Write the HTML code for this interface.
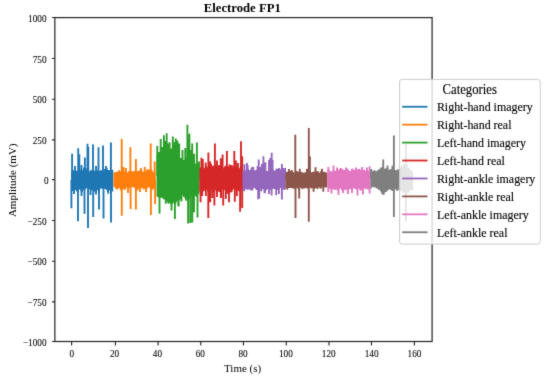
<!DOCTYPE html>
<html><head><meta charset="utf-8"><style>
html,body{margin:0;padding:0;background:#fff;}
svg{display:block;}

text{font-family:"Liberation Serif","Times New Roman",serif;fill:#000;}
</style></head><body>
<svg width="550" height="378" viewBox="0 0 550 378">
<defs><filter id="bl" x="0" y="0" width="1" height="1" color-interpolation-filters="sRGB"><feConvolveMatrix order="3" kernelMatrix="0.0113 0.0838 0.0113 0.0838 0.6193 0.0838 0.0113 0.0838 0.0113" divisor="1" edgeMode="duplicate"/></filter><clipPath id="ax"><rect x="54.85" y="17.6" width="377.25" height="323.90"/></clipPath></defs>
<g filter="url(#bl)">
<rect width="550" height="378" fill="#fff"/>
<g clip-path="url(#ax)">
<path d="M71.8 171.8V189.9M72.5 171.2V190.9M73.2 170.3V189.7M74.0 170.8V190.1M74.7 170.8V190.1M75.4 171.1V189.9M76.1 171.1V190.1M76.8 170.8V191.6M77.5 171.0V191.6M78.2 171.5V190.8M78.9 171.5V189.5M79.6 171.6V189.4M80.3 171.0V189.2M81.0 169.7V191.0M81.7 170.6V192.6M82.4 171.2V191.5M83.1 169.9V189.6M83.8 167.6V188.7M84.5 169.6V189.7M85.2 169.8V189.2M85.9 168.0V188.3M86.6 170.0V188.2M87.3 169.2V188.2M88.0 170.5V188.5M88.7 171.8V189.6M89.4 171.6V189.1M90.1 171.2V188.0M90.8 170.1V189.2M91.5 171.0V190.5M92.2 170.4V189.2M92.9 170.3V189.3M93.6 170.4V190.2M94.3 170.8V191.1M95.0 172.1V191.7M95.7 172.3V190.4M96.4 171.7V189.6M97.1 170.3V189.0M97.8 170.6V189.9M98.5 171.2V191.4M99.2 171.1V192.1M99.9 171.1V189.3M100.6 170.3V188.1M101.3 170.2V188.1M102.0 170.2V188.6M102.7 170.6V188.8M103.4 170.6V189.0M104.1 170.4V188.7M104.8 169.0V187.9M105.5 169.8V188.9M106.2 169.3V189.3M106.9 168.3V190.1M107.6 169.9V191.8M108.3 171.3V190.7M109.0 170.0V189.6M109.7 170.6V190.2M110.4 171.6V189.4M111.1 171.2V189.2M111.8 170.2V190.7M112.5 169.7V191.5" stroke="#1f77b4" stroke-width="1.5" fill="none"/>
<path d="M72.1 153.7V180.0M78.2 148.3V180.0M79.3 154.3V180.0M84.9 157.6V180.0M87.5 143.8V180.0M88.3 147.0V180.0M93.0 144.4V180.0M98.5 147.3V180.0M103.0 145.6V180.0M110.9 142.4V180.0M75.0 166.0V180.0M81.5 165.0V180.0M96.0 166.0V180.0M106.0 166.0V180.0M71.4 180.0V208.2M78.0 180.0V221.3M84.5 180.0V213.7M88.0 180.0V228.1M93.2 180.0V217.1M99.0 180.0V209.6M103.5 180.0V218.5M108.3 180.0V193.8M111.0 180.0V222.6M74.0 180.0V194.0M81.5 180.0V196.0M90.5 180.0V195.0M96.0 180.0V194.5" stroke="#1f77b4" stroke-width="1.9" fill="none"/>
<path d="M114.2 172.2V186.4M114.9 172.5V187.2M115.6 172.4V187.7M116.3 171.8V189.6M117.0 172.3V189.4M117.7 172.1V188.4M118.4 171.3V188.3M119.1 169.9V188.1M119.8 171.6V188.1M120.5 172.0V189.9M121.2 170.9V190.4M121.9 170.0V189.5M122.6 170.7V189.8M123.3 169.7V188.4M124.0 171.4V188.8M124.7 172.1V190.0M125.4 172.1V189.0M126.1 172.4V187.6M126.8 172.6V186.8M127.5 172.6V187.1M128.2 172.5V187.0M128.9 171.0V187.0M129.6 171.6V187.7M130.3 171.5V187.7M131.0 171.1V187.6M131.7 171.3V187.1M132.3 172.4V187.1M133.0 171.8V187.0M133.7 171.2V187.2M134.4 170.9V187.8M135.1 171.8V187.1M135.8 172.5V187.9M136.5 172.1V189.4M137.2 171.9V190.4M137.9 170.8V190.0M138.6 171.5V187.8M139.3 171.2V186.7M140.0 170.0V187.4M140.7 169.7V188.3M141.4 170.7V187.8M142.1 171.5V187.1M142.8 171.8V188.0M143.5 171.9V189.4M144.2 171.7V188.8M144.9 171.6V187.6M145.6 172.3V188.1M146.3 171.2V189.4M147.0 169.2V188.5M147.7 170.2V187.8M148.4 169.7V186.7M149.1 169.2V186.9M149.8 171.3V187.5M150.5 171.3V187.1M151.2 169.5V187.6M151.9 170.3V189.7M152.6 171.9V189.7M153.3 172.4V188.5M154.0 172.1V187.7M154.7 172.8V188.9" stroke="#ff7f0e" stroke-width="1.5" fill="none"/>
<path d="M121.7 138.9V179.8M130.4 147.2V179.8M135.9 158.9V179.8M144.7 167.0V179.8M150.7 143.5V179.8M154.7 161.4V179.8M123.5 167.0V179.8M126.0 168.0V179.8M141.0 168.0V179.8M121.8 179.8V215.8M130.6 179.8V209.0M135.9 179.8V209.4M150.9 179.8V215.1M155.1 179.8V204.1M128.0 179.8V193.0M140.0 179.8V192.0M146.0 179.8V192.0" stroke="#ff7f0e" stroke-width="1.9" fill="none"/>
<path d="M157.3 155.9V196.5M158.0 156.1V197.0M158.7 156.0V197.6M159.4 155.6V197.1M160.1 154.1V197.2M160.8 153.6V197.8M161.5 154.0V197.8M162.2 153.9V196.5M162.9 152.5V197.9M163.6 151.4V198.9M164.3 150.5V199.4M165.0 150.9V199.3M165.7 151.5V198.9M166.4 151.0V199.8M167.1 149.9V200.8M167.8 149.9V202.2M168.5 148.7V201.6M169.2 148.8V202.6M169.9 149.5V202.5M170.6 150.6V202.9M171.3 149.8V204.2M172.0 149.4V204.2M172.7 150.2V203.3M173.4 150.9V202.6M174.1 151.2V201.0M174.8 153.1V202.2M175.5 153.6V204.1M176.2 154.3V201.9M176.9 156.8V200.6M177.6 159.6V200.7M178.3 159.6V200.3M179.0 161.1V199.2M179.7 162.2V199.7M180.4 161.7V199.3M181.1 161.0V197.1M181.8 160.5V195.6M182.5 161.1V194.2M183.2 162.1V195.3M183.9 161.9V196.9M184.6 161.0V196.7M185.3 159.3V198.7M186.0 158.0V200.4M186.7 156.5V200.7M187.4 156.9V199.5M188.1 155.4V198.6M188.8 155.8V199.2M189.5 157.4V199.1M190.2 157.1V197.5M190.9 157.0V195.8M191.6 156.8V195.7M192.3 160.3V195.4M193.0 164.5V195.8M193.7 164.1V195.5M194.4 162.3V196.0M195.1 163.8V194.7M195.8 164.8V195.5M196.5 165.2V196.8M197.2 164.2V195.3M197.9 163.5V194.3M198.6 165.1V194.2" stroke="#2ca02c" stroke-width="1.5" fill="none"/>
<path d="M157.3 146.1V175.9M158.8 152.0V175.7M160.7 139.1V175.5M162.2 147.0V175.7M163.9 135.3V175.0M165.2 141.0V175.1M166.7 133.2V175.3M168.1 143.6V175.5M169.6 142.3V175.7M170.9 148.6V175.9M172.8 136.6V176.2M174.0 142.3V176.6M175.7 138.5V177.0M177.4 140.4V179.7M179.2 143.6V180.3M181.0 158.0V178.9M182.5 149.9V177.8M184.0 160.0V179.5M185.3 148.0V178.5M187.4 124.8V177.5M188.5 140.0V177.1M189.4 133.7V176.7M190.6 150.0V176.6M192.2 143.6V177.5M194.1 153.7V179.6M196.9 142.6V179.7M199.0 161.4V179.5M159.5 175.6V213.4M165.8 175.2V203.8M168.6 175.6V203.8M171.5 175.9V210.6M174.9 176.8V219.1M178.3 180.1V206.0M178.7 180.2V206.6M181.5 178.1V201.5M184.5 179.1V196.4M188.1 177.2V223.5M190.3 176.6V223.0M192.3 177.8V222.5M194.0 179.6V212.3M195.2 179.7V196.0M197.5 179.6V217.4" stroke="#2ca02c" stroke-width="1.9" fill="none"/>
<path d="M200.1 168.4V191.7M200.8 167.4V191.7M201.4 167.1V190.3M202.1 165.3V190.4M202.8 166.8V191.5M203.5 168.5V190.9M204.2 168.4V189.3M204.9 168.0V190.4M205.6 166.9V189.4M206.3 166.1V189.2M207.0 167.4V188.9M207.7 168.7V190.6M208.4 166.9V192.2M209.1 165.1V192.1M209.8 168.0V191.8M210.5 169.2V189.9M211.2 169.0V189.0M211.9 167.4V190.1M212.6 166.5V192.8M213.3 165.9V192.2M214.0 165.5V190.4M214.7 164.5V189.4M215.4 165.2V189.3M216.1 167.6V190.8M216.8 167.1V192.0M217.5 166.0V190.9M218.2 166.6V191.0M218.9 168.2V191.3M219.6 167.3V191.9M220.3 167.9V191.1M221.0 168.3V190.6M221.7 168.1V189.2M222.4 168.6V189.4M223.1 168.6V189.3M223.8 168.3V190.4M224.5 167.1V189.4M225.2 165.8V188.9M225.9 166.2V190.6M226.6 165.7V189.6M227.3 166.9V188.2M228.0 167.7V188.5M228.7 166.6V189.1M229.4 166.6V190.7M230.1 167.3V192.1M230.8 168.6V192.6M231.5 167.9V192.0M232.2 167.2V189.9M232.9 165.8V188.8M233.6 167.6V188.5M234.3 167.2V189.7M235.0 166.7V189.8M235.7 167.5V190.0M236.4 168.2V188.8M237.1 166.8V189.9M237.8 167.5V190.2M238.5 168.7V190.5M239.2 169.2V191.5M239.9 168.1V191.7M240.6 166.0V190.1M241.3 167.9V189.4" stroke="#d62728" stroke-width="1.5" fill="none"/>
<path d="M201.4 157.8V178.7M202.8 159.0V178.7M205.7 162.5V178.7M208.4 152.5V178.7M210.2 161.5V178.7M211.2 164.0V178.7M214.9 143.5V178.7M217.0 160.4V178.7M219.2 165.0V178.7M220.8 158.3V178.7M221.5 158.3V178.7M222.6 154.6V178.7M226.9 150.9V178.7M229.5 164.5V178.7M231.5 165.0V178.7M234.3 150.9V178.7M235.9 160.4V178.7M238.0 163.0V178.7M241.0 141.3V178.7M242.2 156.2V178.7M200.6 178.7V202.2M202.2 178.7V196.0M205.9 178.7V195.9M208.3 178.7V218.1M210.2 178.7V202.2M212.3 178.7V198.0M214.4 178.7V205.4M217.0 178.7V196.9M218.6 178.7V191.6M220.8 178.7V198.0M221.0 178.7V198.0M223.2 178.7V205.4M225.8 178.7V199.0M227.4 178.7V193.8M229.0 178.7V202.2M231.6 178.7V191.6M234.8 178.7V201.7M236.9 178.7V195.9M240.1 178.7V211.7M242.2 178.7V208.0" stroke="#d62728" stroke-width="1.9" fill="none"/>
<path d="M243.2 170.6V190.3M243.9 170.9V190.5M244.6 170.2V188.8M245.3 170.4V188.5M246.0 170.8V188.9M246.7 170.8V189.2M247.4 169.9V189.7M248.1 169.1V188.8M248.8 170.2V189.5M249.5 170.1V188.4M250.2 170.5V188.7M250.9 170.3V190.2M251.6 169.4V188.6M252.3 170.5V188.3M253.0 170.7V188.4M253.7 170.7V187.9M254.4 170.2V187.5M255.1 170.3V187.8M255.8 170.6V189.0M256.5 170.1V189.9M257.2 170.0V190.0M257.9 170.8V190.0M258.6 170.2V188.9M259.3 170.8V188.9M260.0 171.2V188.8M260.7 170.4V188.7M261.4 170.2V188.3M262.1 170.8V188.7M262.8 169.5V189.2M263.5 170.0V189.2M264.2 170.7V189.2M264.9 170.6V190.0M265.6 170.6V189.8M266.3 170.9V190.2M267.0 171.2V189.1M267.7 171.1V189.0M268.4 171.0V189.2M269.1 171.0V189.3M269.8 170.5V190.3M270.5 171.2V189.6M271.2 170.8V189.1M271.9 170.4V189.2M272.6 170.3V188.2M273.3 170.1V188.6M274.0 170.8V189.0M274.7 170.7V188.3M275.4 170.9V189.0M276.1 170.1V188.3M276.8 168.8V189.1M277.5 170.0V190.1M278.2 169.1V189.4M278.9 168.4V188.9M279.6 168.8V188.1M280.3 169.5V187.4M281.0 169.4V188.2M281.7 168.2V187.7M282.4 168.9V188.8M283.1 168.1V189.0M283.8 169.0V188.9M284.5 170.6V189.9" stroke="#9467bd" stroke-width="1.5" fill="none"/>
<path d="M244.4 164.3V179.5M246.9 163.1V179.5M247.6 165.0V179.5M251.6 168.0V179.5M252.3 166.7V179.5M253.2 167.0V179.5M257.5 166.3V179.5M258.7 159.5V179.5M260.3 167.0V179.5M261.9 163.9V179.5M263.4 156.3V179.5M264.6 163.0V179.5M265.4 162.3V179.5M269.0 159.9V179.5M270.2 158.0V179.5M271.7 152.8V179.5M272.6 160.0V179.5M276.5 168.7V179.5M278.9 167.9V179.5M281.9 163.9V179.5M283.7 168.0V179.5M285.1 168.0V179.5M244.3 179.5V191.3M250.6 179.5V190.0M252.3 179.5V190.6M258.2 179.5V199.2M259.2 179.5V198.5M261.2 179.5V191.3M264.5 179.5V193.2M265.0 179.5V193.2M269.0 179.5V193.9M271.6 179.5V195.6M276.2 179.5V195.2M278.9 179.5V193.9M281.9 179.5V199.5M284.5 179.5V190.0" stroke="#9467bd" stroke-width="1.9" fill="none"/>
<path d="M286.1 173.2V188.6M286.8 172.0V188.3M287.4 171.7V189.8M288.1 171.8V187.9M288.8 171.0V187.6M289.5 170.9V187.9M290.2 171.4V188.1M290.9 170.9V187.9M291.6 169.9V187.6M292.3 170.6V187.8M293.0 172.2V188.4M293.7 172.6V188.7M294.4 172.9V188.5M295.1 172.8V188.3M295.8 171.4V187.5M296.5 171.1V187.8M297.2 171.6V187.8M297.9 171.6V188.8M298.6 172.1V188.3M299.3 172.7V189.0M300.0 172.8V187.6M300.7 172.2V187.2M301.4 172.1V187.8M302.1 172.5V189.3M302.8 172.6V188.4M303.5 172.8V188.3M304.2 173.0V188.6M304.9 172.6V187.9M305.6 172.7V187.7M306.3 172.0V187.7M307.0 171.9V188.5M307.7 171.4V188.4M308.4 170.7V188.2M309.1 170.7V187.6M309.8 171.4V187.1M310.5 171.9V187.6M311.2 172.9V188.6M311.9 172.5V188.3M312.6 171.9V188.1M313.3 171.7V187.4M314.0 171.7V187.4M314.7 171.8V188.8M315.4 172.0V188.1M316.1 171.7V187.5M316.8 171.3V187.9M317.5 171.8V189.2M318.2 171.3V187.7M318.9 172.9V187.2M319.6 172.8V187.3M320.3 172.4V188.7M321.0 170.8V188.4M321.7 170.6V187.6M322.4 171.9V187.1M323.1 172.2V186.8M323.8 171.8V187.4M324.5 172.0V187.3M325.2 172.2V187.6M325.9 172.5V187.6M326.6 172.8V187.3" stroke="#8c564b" stroke-width="1.5" fill="none"/>
<path d="M295.3 134.8V180.0M299.8 168.7V180.0M306.9 168.7V180.0M308.8 128.0V180.0M309.9 156.6V180.0M315.5 167.2V180.0M322.0 168.7V180.0M289.0 169.0V180.0M295.5 180.0V217.9M299.2 180.0V198.6M308.8 180.0V221.7M313.6 180.0V191.8M323.3 180.0V191.8" stroke="#8c564b" stroke-width="1.9" fill="none"/>
<path d="M328.4 169.1V188.0M329.1 170.2V188.5M329.8 171.5V188.4M330.5 171.2V188.8M331.2 171.5V189.5M331.9 171.4V188.8M332.6 171.3V189.3M333.3 170.6V189.2M334.0 171.0V188.7M334.7 171.4V189.6M335.4 170.8V189.9M336.1 171.1V188.3M336.8 170.8V189.3M337.5 170.7V190.6M338.2 170.4V189.3M338.9 169.9V188.7M339.6 168.8V188.6M340.3 169.5V187.8M341.0 169.9V188.5M341.7 169.2V190.1M342.4 169.1V190.3M343.1 170.1V190.0M343.8 169.9V191.0M344.5 170.0V189.0M345.2 170.8V189.1M345.9 171.2V190.3M346.6 170.8V189.1M347.3 168.5V189.2M348.0 169.4V188.6M348.7 170.7V188.4M349.4 171.0V189.2M350.1 171.1V189.2M350.8 171.1V188.6M351.5 170.4V189.1M352.2 170.4V188.8M352.9 170.8V188.0M353.6 169.6V188.5M354.3 169.8V188.2M355.0 170.2V188.5M355.7 169.3V188.9M356.4 169.9V189.5M357.1 169.4V189.2M357.8 169.8V189.1M358.5 169.0V188.0M359.2 168.8V187.8M359.9 169.7V189.7M360.6 170.3V190.8M361.3 170.4V189.9M362.0 169.9V188.9M362.7 170.1V188.3M363.4 170.1V188.0M364.1 169.4V187.9M364.8 170.6V188.3M365.5 171.1V189.3M366.2 170.9V188.6M366.9 171.4V188.2M367.6 170.8V189.2M368.3 171.6V189.6M369.0 171.1V189.3" stroke="#e377c2" stroke-width="1.5" fill="none"/>
<path d="M369.6 166.2V179.5M328.3 167.0V179.5M333.5 165.5V179.5M337.0 167.5V179.5M341.0 168.0V179.5M346.0 167.5V179.5M352.0 168.5V179.5M356.0 167.5V179.5M362.0 167.0V179.5M367.0 167.5V179.5M328.3 179.5V192.0M331.5 179.5V193.5M338.5 179.5V195.0M343.0 179.5V193.0M348.0 179.5V194.0M352.0 179.5V193.0M357.5 179.5V195.5M363.0 179.5V194.5M369.6 179.5V193.4" stroke="#e377c2" stroke-width="1.9" fill="none"/>
<path d="M371.1 169.7V188.6M371.8 170.8V186.6M372.5 171.2V186.7M373.2 171.3V186.9M373.9 170.5V187.5M374.6 170.2V187.3M375.3 170.7V187.3M376.0 171.3V187.4M376.7 171.4V188.5M377.4 171.0V188.4M378.1 170.0V188.4M378.8 169.6V189.8M379.5 169.5V189.9M380.2 168.8V189.5M380.9 167.5V191.4M381.6 167.9V192.2M382.3 167.3V192.9M383.0 168.0V193.2M383.7 168.7V194.2M384.4 168.7V192.5M385.1 168.7V191.9M385.8 168.2V191.6M386.5 168.5V190.9M387.2 168.4V190.2M387.9 170.1V190.2M388.6 170.0V189.8M389.3 169.7V189.1M390.0 169.2V188.9M390.7 169.4V189.5M391.4 169.4V190.4M392.1 168.8V190.2M392.8 169.5V190.9M393.5 170.0V190.0M394.2 170.5V188.9M394.9 170.1V189.2M395.6 171.0V189.3M396.3 170.5V189.5M397.0 169.9V190.9M397.7 169.5V189.6M398.4 169.2V189.6M399.1 169.7V189.9M399.8 167.8V190.9M400.5 167.8V190.9M401.2 167.2V190.5M401.9 165.8V190.1M402.6 165.3V191.4M403.3 164.6V193.0M404.0 165.7V192.9M404.7 165.5V192.0M405.4 165.7V191.1M406.1 166.2V191.5M406.8 166.5V192.3M407.5 167.5V192.7M408.2 167.7V193.0M408.9 168.5V191.6M409.6 169.2V190.0M410.3 169.5V190.6M411.0 170.6V189.9M411.7 171.4V190.0M412.4 171.6V189.9" stroke="#7f7f7f" stroke-width="1.5" fill="none"/>
<path d="M371.2 169.0V178.6M383.2 159.6V180.6M387.5 165.6V180.2M392.5 165.8V179.5M393.9 135.6V179.7M405.9 143.8V178.7M404.0 164.0V178.6M407.0 165.0V179.0M382.5 180.4V194.2M383.5 180.6V194.7M393.9 179.7V216.9M405.9 178.7V221.6M386.0 180.0V192.0M403.0 178.6V191.5M409.0 179.4V191.0" stroke="#7f7f7f" stroke-width="1.9" fill="none"/>
</g>
<rect x="54.85" y="17.6" width="377.25" height="323.90" fill="none" stroke="#2a2a2a" stroke-width="1.25"/>
<path d="M52.05 17.53H54.85M52.05 58.46H54.85M52.05 99.30H54.85M52.05 139.83H54.85M52.05 179.60H54.85M52.05 220.46H54.85M52.05 261.22H54.85M52.05 301.88H54.85M52.05 341.46H54.85M71.60 341.50V345.40M115.45 341.50V345.40M158.10 341.50V345.40M200.78 341.50V345.40M243.46 341.50V345.40M286.24 341.50V345.40M328.98 341.50V345.40M371.51 341.50V345.40M414.37 341.50V345.40" stroke="#222" stroke-width="1.1" fill="none"/>
<g>
<text transform="translate(46.50 22.15) scale(1 1.06)" text-anchor="end" style="font-size:9.2px;stroke:#000;stroke-width:0.07px;">1000</text>
<text transform="translate(46.50 62.64) scale(1 1.06)" text-anchor="end" style="font-size:9.2px;stroke:#000;stroke-width:0.07px;">750</text>
<text transform="translate(46.50 103.12) scale(1 1.06)" text-anchor="end" style="font-size:9.2px;stroke:#000;stroke-width:0.07px;">500</text>
<text transform="translate(46.50 143.61) scale(1 1.06)" text-anchor="end" style="font-size:9.2px;stroke:#000;stroke-width:0.07px;">250</text>
<text transform="translate(48.50 184.10) scale(1 1.06)" text-anchor="end" style="font-size:9.2px;stroke:#000;stroke-width:0.07px;">0</text>
<text transform="translate(46.50 224.59) scale(1 1.06)" text-anchor="end" style="font-size:9.2px;stroke:#000;stroke-width:0.07px;">−250</text>
<text transform="translate(46.50 265.08) scale(1 1.06)" text-anchor="end" style="font-size:9.2px;stroke:#000;stroke-width:0.07px;">−500</text>
<text transform="translate(46.50 305.56) scale(1 1.06)" text-anchor="end" style="font-size:9.2px;stroke:#000;stroke-width:0.07px;">−750</text>
<text transform="translate(46.50 346.05) scale(1 1.06)" text-anchor="end" style="font-size:9.2px;stroke:#000;stroke-width:0.07px;">−1000</text>
<text transform="translate(71.70 357.30) scale(1 1.06)" text-anchor="middle" style="font-size:9.2px;stroke:#000;stroke-width:0.07px;">0</text>
<text transform="translate(114.54 357.30) scale(1 1.06)" text-anchor="middle" style="font-size:9.2px;stroke:#000;stroke-width:0.07px;">20</text>
<text transform="translate(157.38 357.30) scale(1 1.06)" text-anchor="middle" style="font-size:9.2px;stroke:#000;stroke-width:0.07px;">40</text>
<text transform="translate(200.22 357.30) scale(1 1.06)" text-anchor="middle" style="font-size:9.2px;stroke:#000;stroke-width:0.07px;">60</text>
<text transform="translate(243.06 357.30) scale(1 1.06)" text-anchor="middle" style="font-size:9.2px;stroke:#000;stroke-width:0.07px;">80</text>
<text transform="translate(285.90 357.30) scale(1 1.06)" text-anchor="middle" style="font-size:9.2px;stroke:#000;stroke-width:0.07px;">100</text>
<text transform="translate(328.74 357.30) scale(1 1.06)" text-anchor="middle" style="font-size:9.2px;stroke:#000;stroke-width:0.07px;">120</text>
<text transform="translate(371.58 357.30) scale(1 1.06)" text-anchor="middle" style="font-size:9.2px;stroke:#000;stroke-width:0.07px;">140</text>
<text transform="translate(414.42 357.30) scale(1 1.06)" text-anchor="middle" style="font-size:9.2px;stroke:#000;stroke-width:0.07px;">160</text>
</g>
<text transform="translate(242.30 12.00)" text-anchor="middle" style="font-size:12.7px;font-weight:bold;">Electrode FP1</text>
<text transform="translate(242.60 371.90)" text-anchor="middle" style="font-size:11.0px;">Time (s)</text>
<text transform="translate(15.70 180.30) rotate(-90)" text-anchor="middle" style="font-size:11.0px;">Amplitude (mV)</text>
<rect x="399.6" y="79.4" width="140.6" height="164.7" rx="2.5" fill="#fff" fill-opacity="0.8" stroke="#cccccc" stroke-width="1"/>
<text transform="translate(469.70 93.50) scale(1 1.1)" text-anchor="middle" style="font-size:12.7px;stroke:#000;stroke-width:0.12px;">Categories</text>
<path d="M402.2 106.75H427.5" stroke="#1f77b4" stroke-width="1.8"/>
<text transform="translate(436.90 111.35) scale(1 1.08)" style="font-size:11.95px;stroke:#000;stroke-width:0.12px;">Right-hand imagery</text>
<path d="M402.2 124.68H427.5" stroke="#ff7f0e" stroke-width="1.8"/>
<text transform="translate(436.90 129.28) scale(1 1.08)" style="font-size:11.95px;stroke:#000;stroke-width:0.12px;">Right-hand real</text>
<path d="M402.2 142.61H427.5" stroke="#2ca02c" stroke-width="1.8"/>
<text transform="translate(436.90 147.21) scale(1 1.08)" style="font-size:11.95px;stroke:#000;stroke-width:0.12px;">Left-hand imagery</text>
<path d="M402.2 160.54H427.5" stroke="#d62728" stroke-width="1.8"/>
<text transform="translate(436.90 165.14) scale(1 1.08)" style="font-size:11.95px;stroke:#000;stroke-width:0.12px;">Left-hand real</text>
<path d="M402.2 178.47H427.5" stroke="#9467bd" stroke-width="1.8"/>
<text transform="translate(436.90 183.07) scale(1 1.08)" style="font-size:11.95px;stroke:#000;stroke-width:0.12px;">Right-ankle imagery</text>
<path d="M402.2 196.40H427.5" stroke="#8c564b" stroke-width="1.8"/>
<text transform="translate(436.90 201.00) scale(1 1.08)" style="font-size:11.95px;stroke:#000;stroke-width:0.12px;">Right-ankle real</text>
<path d="M402.2 214.33H427.5" stroke="#e377c2" stroke-width="1.8"/>
<text transform="translate(436.90 218.93) scale(1 1.08)" style="font-size:11.95px;stroke:#000;stroke-width:0.12px;">Left-ankle imagery</text>
<path d="M402.2 232.26H427.5" stroke="#7f7f7f" stroke-width="1.8"/>
<text transform="translate(436.90 236.86) scale(1 1.08)" style="font-size:11.95px;stroke:#000;stroke-width:0.12px;">Left-ankle real</text>
</g>
</svg>
</body></html>
